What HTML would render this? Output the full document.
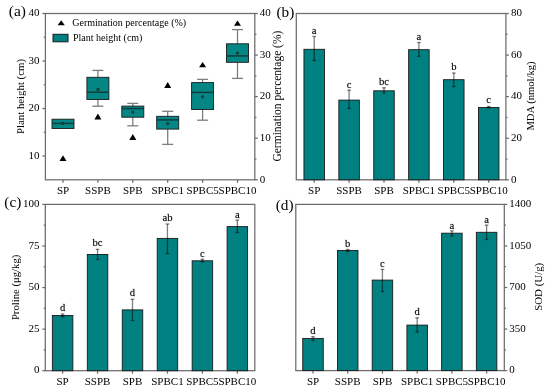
<!DOCTYPE html>
<html><head><meta charset="utf-8"><title>Figure</title>
<style>html,body{margin:0;padding:0;background:#fff;}svg{display:block;}</style>
</head><body>
<svg width="550" height="391" viewBox="0 0 550 391" font-family='"Liberation Serif", "Times New Roman", serif' fill="#000">
<rect width="550" height="391" fill="#fff"/>
<rect x="45.4" y="13.5" width="209.4" height="166.3" fill="none" stroke="#6c6c6c" stroke-width="1.25"/>
<line x1="63.0" y1="179.8" x2="63.0" y2="182.8" stroke="#6c6c6c" stroke-width="1.25"/>
<text x="63.0" y="193.6" font-size="11" text-anchor="middle" >SP</text>
<line x1="97.9" y1="179.8" x2="97.9" y2="182.8" stroke="#6c6c6c" stroke-width="1.25"/>
<text x="97.9" y="193.6" font-size="11" text-anchor="middle" >SSPB</text>
<line x1="132.8" y1="179.8" x2="132.8" y2="182.8" stroke="#6c6c6c" stroke-width="1.25"/>
<text x="132.8" y="193.6" font-size="11" text-anchor="middle" >SPB</text>
<line x1="167.7" y1="179.8" x2="167.7" y2="182.8" stroke="#6c6c6c" stroke-width="1.25"/>
<text x="167.7" y="193.6" font-size="11" text-anchor="middle" >SPBC1</text>
<line x1="202.6" y1="179.8" x2="202.6" y2="182.8" stroke="#6c6c6c" stroke-width="1.25"/>
<text x="202.6" y="193.6" font-size="11" text-anchor="middle" >SPBC5</text>
<line x1="237.5" y1="179.8" x2="237.5" y2="182.8" stroke="#6c6c6c" stroke-width="1.25"/>
<text x="237.5" y="193.6" font-size="11" text-anchor="middle" >SPBC10</text>
<line x1="45.4" y1="156.04285714285714" x2="42.4" y2="156.04285714285714" stroke="#6c6c6c" stroke-width="1.25"/>
<text x="39.6" y="158.74" font-size="11" text-anchor="end" >10</text>
<line x1="45.4" y1="108.52857142857142" x2="42.4" y2="108.52857142857142" stroke="#6c6c6c" stroke-width="1.25"/>
<text x="39.6" y="111.23" font-size="11" text-anchor="end" >20</text>
<line x1="45.4" y1="61.01428571428571" x2="42.4" y2="61.01428571428571" stroke="#6c6c6c" stroke-width="1.25"/>
<text x="39.6" y="63.71" font-size="11" text-anchor="end" >30</text>
<line x1="45.4" y1="13.5" x2="42.4" y2="13.5" stroke="#6c6c6c" stroke-width="1.25"/>
<text x="39.6" y="16.2" font-size="11" text-anchor="end" >40</text>
<line x1="45.4" y1="132.28571428571428" x2="43.8" y2="132.28571428571428" stroke="#6c6c6c" stroke-width="1.25"/>
<line x1="45.4" y1="84.77142857142857" x2="43.8" y2="84.77142857142857" stroke="#6c6c6c" stroke-width="1.25"/>
<line x1="45.4" y1="37.25714285714285" x2="43.8" y2="37.25714285714285" stroke="#6c6c6c" stroke-width="1.25"/>
<line x1="254.8" y1="179.8" x2="257.8" y2="179.8" stroke="#6c6c6c" stroke-width="1.25"/>
<text x="259.8" y="182.6" font-size="11" text-anchor="start" >0</text>
<line x1="254.8" y1="138.22500000000002" x2="257.8" y2="138.22500000000002" stroke="#6c6c6c" stroke-width="1.25"/>
<text x="259.8" y="141.03" font-size="11" text-anchor="start" >10</text>
<line x1="254.8" y1="96.65" x2="257.8" y2="96.65" stroke="#6c6c6c" stroke-width="1.25"/>
<text x="259.8" y="99.45" font-size="11" text-anchor="start" >20</text>
<line x1="254.8" y1="55.07500000000002" x2="257.8" y2="55.07500000000002" stroke="#6c6c6c" stroke-width="1.25"/>
<text x="259.8" y="57.88" font-size="11" text-anchor="start" >30</text>
<line x1="254.8" y1="13.5" x2="257.8" y2="13.5" stroke="#6c6c6c" stroke-width="1.25"/>
<text x="259.8" y="16.3" font-size="11" text-anchor="start" >40</text>
<line x1="254.8" y1="159.01250000000002" x2="256.40000000000003" y2="159.01250000000002" stroke="#6c6c6c" stroke-width="1.25"/>
<line x1="254.8" y1="117.43750000000001" x2="256.40000000000003" y2="117.43750000000001" stroke="#6c6c6c" stroke-width="1.25"/>
<line x1="254.8" y1="75.86250000000001" x2="256.40000000000003" y2="75.86250000000001" stroke="#6c6c6c" stroke-width="1.25"/>
<line x1="254.8" y1="34.28750000000002" x2="256.40000000000003" y2="34.28750000000002" stroke="#6c6c6c" stroke-width="1.25"/>
<rect x="52.0" y="119.2" width="22" height="9.299999999999997" fill="#048784" stroke="#1a1a1a" stroke-width="0.9"/>
<line x1="52.0" y1="123.4" x2="74.0" y2="123.4" stroke="#123c3c" stroke-width="1.5"/>
<circle cx="63.0" cy="123.4" r="1.15" fill="#1d4d4d" stroke="#0d2a2a" stroke-width="0.85"/>
<line x1="97.9" y1="70.4" x2="97.9" y2="77.3" stroke="#7e7e7e" stroke-width="1.3"/>
<line x1="92.4" y1="70.4" x2="103.4" y2="70.4" stroke="#7e7e7e" stroke-width="1.3"/>
<line x1="97.9" y1="99.5" x2="97.9" y2="106.2" stroke="#7e7e7e" stroke-width="1.3"/>
<line x1="92.4" y1="106.2" x2="103.4" y2="106.2" stroke="#7e7e7e" stroke-width="1.3"/>
<rect x="86.9" y="77.3" width="22" height="22.200000000000003" fill="#048784" stroke="#1a1a1a" stroke-width="0.9"/>
<line x1="86.9" y1="92.2" x2="108.9" y2="92.2" stroke="#123c3c" stroke-width="1.5"/>
<circle cx="97.9" cy="89.5" r="1.15" fill="#1d4d4d" stroke="#0d2a2a" stroke-width="0.85"/>
<line x1="132.8" y1="103.4" x2="132.8" y2="106.1" stroke="#7e7e7e" stroke-width="1.3"/>
<line x1="127.30000000000001" y1="103.4" x2="138.3" y2="103.4" stroke="#7e7e7e" stroke-width="1.3"/>
<line x1="132.8" y1="117.2" x2="132.8" y2="125.8" stroke="#7e7e7e" stroke-width="1.3"/>
<line x1="127.30000000000001" y1="125.8" x2="138.3" y2="125.8" stroke="#7e7e7e" stroke-width="1.3"/>
<rect x="121.80000000000001" y="106.1" width="22" height="11.100000000000009" fill="#048784" stroke="#1a1a1a" stroke-width="0.9"/>
<line x1="121.80000000000001" y1="108.6" x2="143.8" y2="108.6" stroke="#123c3c" stroke-width="1.5"/>
<circle cx="132.8" cy="112.2" r="1.15" fill="#1d4d4d" stroke="#0d2a2a" stroke-width="0.85"/>
<line x1="167.7" y1="111.3" x2="167.7" y2="116.3" stroke="#7e7e7e" stroke-width="1.3"/>
<line x1="162.2" y1="111.3" x2="173.2" y2="111.3" stroke="#7e7e7e" stroke-width="1.3"/>
<line x1="167.7" y1="129.1" x2="167.7" y2="144.4" stroke="#7e7e7e" stroke-width="1.3"/>
<line x1="162.2" y1="144.4" x2="173.2" y2="144.4" stroke="#7e7e7e" stroke-width="1.3"/>
<rect x="156.7" y="116.3" width="22" height="12.799999999999997" fill="#048784" stroke="#1a1a1a" stroke-width="0.9"/>
<line x1="156.7" y1="119.9" x2="178.7" y2="119.9" stroke="#123c3c" stroke-width="1.5"/>
<circle cx="167.7" cy="123.6" r="1.15" fill="#1d4d4d" stroke="#0d2a2a" stroke-width="0.85"/>
<line x1="202.6" y1="79.4" x2="202.6" y2="82.6" stroke="#7e7e7e" stroke-width="1.3"/>
<line x1="197.1" y1="79.4" x2="208.1" y2="79.4" stroke="#7e7e7e" stroke-width="1.3"/>
<line x1="202.6" y1="109.5" x2="202.6" y2="120.2" stroke="#7e7e7e" stroke-width="1.3"/>
<line x1="197.1" y1="120.2" x2="208.1" y2="120.2" stroke="#7e7e7e" stroke-width="1.3"/>
<rect x="191.6" y="82.6" width="22" height="26.900000000000006" fill="#048784" stroke="#1a1a1a" stroke-width="0.9"/>
<line x1="191.6" y1="92.4" x2="213.6" y2="92.4" stroke="#123c3c" stroke-width="1.5"/>
<circle cx="202.6" cy="96.8" r="1.15" fill="#1d4d4d" stroke="#0d2a2a" stroke-width="0.85"/>
<line x1="237.5" y1="29.6" x2="237.5" y2="43.8" stroke="#7e7e7e" stroke-width="1.3"/>
<line x1="232.0" y1="29.6" x2="243.0" y2="29.6" stroke="#7e7e7e" stroke-width="1.3"/>
<line x1="237.5" y1="62.3" x2="237.5" y2="78.4" stroke="#7e7e7e" stroke-width="1.3"/>
<line x1="232.0" y1="78.4" x2="243.0" y2="78.4" stroke="#7e7e7e" stroke-width="1.3"/>
<rect x="226.5" y="43.8" width="22" height="18.5" fill="#048784" stroke="#1a1a1a" stroke-width="0.9"/>
<line x1="226.5" y1="55.9" x2="248.5" y2="55.9" stroke="#123c3c" stroke-width="1.5"/>
<circle cx="237.5" cy="53.1" r="1.15" fill="#1d4d4d" stroke="#0d2a2a" stroke-width="0.85"/>
<polygon points="63.0,155.20000000000002 59.5,161.05 66.5,161.05" fill="#000"/>
<polygon points="97.9,113.6 94.4,119.45 101.4,119.45" fill="#000"/>
<polygon points="132.8,134.0 129.3,139.95 136.3,139.95" fill="#000"/>
<polygon points="167.7,82.1 164.2,88.05 171.2,88.05" fill="#000"/>
<polygon points="202.6,61.9 199.1,67.15 206.1,67.15" fill="#000"/>
<polygon points="237.5,20.400000000000002 234.0,25.65 241.0,25.65" fill="#000"/>
<polygon points="61.2,20.2 57.6,25.2 64.8,25.2" fill="#000"/>
<text x="72.3" y="26.4" font-size="10" text-anchor="start" >Germination percentage (%)</text>
<rect x="53" y="34.3" width="15" height="7.5" fill="#008080" stroke="#1a1a1a" stroke-width="1"/>
<text x="73.0" y="40.7" font-size="10" text-anchor="start" >Plant height (cm)</text>
<text x="0" y="0" font-size="10.8" text-anchor="middle" transform="translate(24.1,96.5) rotate(-90)">Plant height (cm)</text>
<text x="0" y="0" font-size="11.5" text-anchor="middle" transform="translate(280.5,96.1) rotate(-90)">Germination percentage (%)</text>
<text x="8.8" y="15.6" font-size="15.5" text-anchor="start" >(a)</text>
<rect x="296.3" y="13.5" width="209.59999999999997" height="166.3" fill="none" stroke="#6c6c6c" stroke-width="1.25"/>
<line x1="314.2" y1="179.8" x2="314.2" y2="182.8" stroke="#6c6c6c" stroke-width="1.25"/>
<text x="314.2" y="193.6" font-size="11" text-anchor="middle" >SP</text>
<line x1="349.1" y1="179.8" x2="349.1" y2="182.8" stroke="#6c6c6c" stroke-width="1.25"/>
<text x="349.1" y="193.6" font-size="11" text-anchor="middle" >SSPB</text>
<line x1="384.0" y1="179.8" x2="384.0" y2="182.8" stroke="#6c6c6c" stroke-width="1.25"/>
<text x="384.0" y="193.6" font-size="11" text-anchor="middle" >SPB</text>
<line x1="418.9" y1="179.8" x2="418.9" y2="182.8" stroke="#6c6c6c" stroke-width="1.25"/>
<text x="418.9" y="193.6" font-size="11" text-anchor="middle" >SPBC1</text>
<line x1="453.8" y1="179.8" x2="453.8" y2="182.8" stroke="#6c6c6c" stroke-width="1.25"/>
<text x="453.8" y="193.6" font-size="11" text-anchor="middle" >SPBC5</text>
<line x1="488.7" y1="179.8" x2="488.7" y2="182.8" stroke="#6c6c6c" stroke-width="1.25"/>
<text x="488.7" y="193.6" font-size="11" text-anchor="middle" >SPBC10</text>
<line x1="505.9" y1="179.8" x2="508.9" y2="179.8" stroke="#6c6c6c" stroke-width="1.25"/>
<text x="510.9" y="182.6" font-size="11" text-anchor="start" >0</text>
<line x1="505.9" y1="138.22500000000002" x2="508.9" y2="138.22500000000002" stroke="#6c6c6c" stroke-width="1.25"/>
<text x="510.9" y="141.03" font-size="11" text-anchor="start" >20</text>
<line x1="505.9" y1="96.65" x2="508.9" y2="96.65" stroke="#6c6c6c" stroke-width="1.25"/>
<text x="510.9" y="99.45" font-size="11" text-anchor="start" >40</text>
<line x1="505.9" y1="55.07500000000002" x2="508.9" y2="55.07500000000002" stroke="#6c6c6c" stroke-width="1.25"/>
<text x="510.9" y="57.88" font-size="11" text-anchor="start" >60</text>
<line x1="505.9" y1="13.5" x2="508.9" y2="13.5" stroke="#6c6c6c" stroke-width="1.25"/>
<text x="510.9" y="16.3" font-size="11" text-anchor="start" >80</text>
<line x1="505.9" y1="159.01250000000002" x2="507.5" y2="159.01250000000002" stroke="#6c6c6c" stroke-width="1.25"/>
<line x1="505.9" y1="117.43750000000001" x2="507.5" y2="117.43750000000001" stroke="#6c6c6c" stroke-width="1.25"/>
<line x1="505.9" y1="75.86250000000001" x2="507.5" y2="75.86250000000001" stroke="#6c6c6c" stroke-width="1.25"/>
<line x1="505.9" y1="34.28750000000002" x2="507.5" y2="34.28750000000002" stroke="#6c6c6c" stroke-width="1.25"/>
<rect x="303.95" y="49.3" width="20.5" height="130.5" fill="#008080" stroke="#1a1a1a" stroke-width="0.9"/>
<rect x="338.85" y="100.1" width="20.5" height="79.70000000000002" fill="#008080" stroke="#1a1a1a" stroke-width="0.9"/>
<rect x="373.75" y="90.8" width="20.5" height="89.00000000000001" fill="#008080" stroke="#1a1a1a" stroke-width="0.9"/>
<rect x="408.65" y="49.7" width="20.5" height="130.10000000000002" fill="#008080" stroke="#1a1a1a" stroke-width="0.9"/>
<rect x="443.55" y="79.7" width="20.5" height="100.10000000000001" fill="#008080" stroke="#1a1a1a" stroke-width="0.9"/>
<rect x="478.45" y="107.5" width="20.5" height="72.30000000000001" fill="#008080" stroke="#1a1a1a" stroke-width="0.9"/>
<g stroke="#000" stroke-opacity="0.5" stroke-width="1.3"><line x1="314.2" y1="36.5" x2="314.2" y2="60.4"/><line x1="312.4" y1="36.5" x2="316.0" y2="36.5"/><line x1="312.4" y1="60.4" x2="316.0" y2="60.4"/></g>
<text x="314.2" y="34.4" font-size="10.6" text-anchor="middle" stroke="#000" stroke-width="0.3" stroke-opacity="0.45">a</text>
<g stroke="#000" stroke-opacity="0.5" stroke-width="1.3"><line x1="349.1" y1="90.1" x2="349.1" y2="108.5"/><line x1="347.3" y1="90.1" x2="350.90000000000003" y2="90.1"/><line x1="347.3" y1="108.5" x2="350.90000000000003" y2="108.5"/></g>
<text x="349.1" y="87.6" font-size="10.6" text-anchor="middle" stroke="#000" stroke-width="0.3" stroke-opacity="0.45">c</text>
<g stroke="#000" stroke-opacity="0.5" stroke-width="1.3"><line x1="384.0" y1="87.8" x2="384.0" y2="93"/><line x1="382.2" y1="87.8" x2="385.8" y2="87.8"/><line x1="382.2" y1="93" x2="385.8" y2="93"/></g>
<text x="384.0" y="85.3" font-size="10.6" text-anchor="middle" stroke="#000" stroke-width="0.3" stroke-opacity="0.45">bc</text>
<g stroke="#000" stroke-opacity="0.5" stroke-width="1.3"><line x1="418.9" y1="42.5" x2="418.9" y2="56.3"/><line x1="417.09999999999997" y1="42.5" x2="420.7" y2="42.5"/><line x1="417.09999999999997" y1="56.3" x2="420.7" y2="56.3"/></g>
<text x="418.9" y="39.9" font-size="10.6" text-anchor="middle" stroke="#000" stroke-width="0.3" stroke-opacity="0.45">a</text>
<g stroke="#000" stroke-opacity="0.5" stroke-width="1.3"><line x1="453.8" y1="73" x2="453.8" y2="86.6"/><line x1="452.0" y1="73" x2="455.6" y2="73"/><line x1="452.0" y1="86.6" x2="455.6" y2="86.6"/></g>
<text x="453.8" y="70.0" font-size="10.6" text-anchor="middle" stroke="#000" stroke-width="0.3" stroke-opacity="0.45">b</text>
<g stroke="#000" stroke-opacity="0.5" stroke-width="1.3"><line x1="488.7" y1="106.5" x2="488.7" y2="108"/><line x1="486.9" y1="106.5" x2="490.5" y2="106.5"/><line x1="486.9" y1="108" x2="490.5" y2="108"/></g>
<text x="488.7" y="103.4" font-size="10.6" text-anchor="middle" stroke="#000" stroke-width="0.3" stroke-opacity="0.45">c</text>
<text x="0" y="0" font-size="10.6" text-anchor="middle" transform="translate(533.8,96.0) rotate(-90)">MDA (nmol/kg)</text>
<text x="276.4" y="17.4" font-size="15.3" text-anchor="start" >(b)</text>
<rect x="45.3" y="204.4" width="209.5" height="166.29999999999998" fill="none" stroke="#6c6c6c" stroke-width="1.25"/>
<line x1="62.6" y1="370.7" x2="62.6" y2="373.7" stroke="#6c6c6c" stroke-width="1.25"/>
<text x="62.6" y="384.6" font-size="11" text-anchor="middle" >SP</text>
<line x1="97.55" y1="370.7" x2="97.55" y2="373.7" stroke="#6c6c6c" stroke-width="1.25"/>
<text x="97.55" y="384.6" font-size="11" text-anchor="middle" >SSPB</text>
<line x1="132.5" y1="370.7" x2="132.5" y2="373.7" stroke="#6c6c6c" stroke-width="1.25"/>
<text x="132.5" y="384.6" font-size="11" text-anchor="middle" >SPB</text>
<line x1="167.45" y1="370.7" x2="167.45" y2="373.7" stroke="#6c6c6c" stroke-width="1.25"/>
<text x="167.45" y="384.6" font-size="11" text-anchor="middle" >SPBC1</text>
<line x1="202.4" y1="370.7" x2="202.4" y2="373.7" stroke="#6c6c6c" stroke-width="1.25"/>
<text x="202.4" y="384.6" font-size="11" text-anchor="middle" >SPBC5</text>
<line x1="237.35" y1="370.7" x2="237.35" y2="373.7" stroke="#6c6c6c" stroke-width="1.25"/>
<text x="237.35" y="384.6" font-size="11" text-anchor="middle" >SPBC10</text>
<line x1="45.3" y1="370.7" x2="42.3" y2="370.7" stroke="#6c6c6c" stroke-width="1.25"/>
<text x="39.5" y="373.4" font-size="11" text-anchor="end" >0</text>
<line x1="45.3" y1="329.125" x2="42.3" y2="329.125" stroke="#6c6c6c" stroke-width="1.25"/>
<text x="39.5" y="331.82" font-size="11" text-anchor="end" >25</text>
<line x1="45.3" y1="287.54999999999995" x2="42.3" y2="287.54999999999995" stroke="#6c6c6c" stroke-width="1.25"/>
<text x="39.5" y="290.25" font-size="11" text-anchor="end" >50</text>
<line x1="45.3" y1="245.97500000000002" x2="42.3" y2="245.97500000000002" stroke="#6c6c6c" stroke-width="1.25"/>
<text x="39.5" y="248.68" font-size="11" text-anchor="end" >75</text>
<line x1="45.3" y1="204.39999999999998" x2="42.3" y2="204.39999999999998" stroke="#6c6c6c" stroke-width="1.25"/>
<text x="39.5" y="207.1" font-size="11" text-anchor="end" >100</text>
<line x1="45.3" y1="349.91249999999997" x2="43.699999999999996" y2="349.91249999999997" stroke="#6c6c6c" stroke-width="1.25"/>
<line x1="45.3" y1="308.3375" x2="43.699999999999996" y2="308.3375" stroke="#6c6c6c" stroke-width="1.25"/>
<line x1="45.3" y1="266.7625" x2="43.699999999999996" y2="266.7625" stroke="#6c6c6c" stroke-width="1.25"/>
<line x1="45.3" y1="225.1875" x2="43.699999999999996" y2="225.1875" stroke="#6c6c6c" stroke-width="1.25"/>
<rect x="52.35" y="315.5" width="20.5" height="55.19999999999999" fill="#008080" stroke="#1a1a1a" stroke-width="0.9"/>
<rect x="87.3" y="254.5" width="20.5" height="116.19999999999999" fill="#008080" stroke="#1a1a1a" stroke-width="0.9"/>
<rect x="122.25" y="309.9" width="20.5" height="60.80000000000001" fill="#008080" stroke="#1a1a1a" stroke-width="0.9"/>
<rect x="157.2" y="238.4" width="20.5" height="132.29999999999998" fill="#008080" stroke="#1a1a1a" stroke-width="0.9"/>
<rect x="192.15" y="260.8" width="20.5" height="109.89999999999998" fill="#008080" stroke="#1a1a1a" stroke-width="0.9"/>
<rect x="227.1" y="226.6" width="20.5" height="144.1" fill="#008080" stroke="#1a1a1a" stroke-width="0.9"/>
<g stroke="#000" stroke-opacity="0.5" stroke-width="1.3"><line x1="62.6" y1="314" x2="62.6" y2="316.7"/><line x1="60.800000000000004" y1="314" x2="64.4" y2="314"/><line x1="60.800000000000004" y1="316.7" x2="64.4" y2="316.7"/></g>
<text x="62.6" y="311.3" font-size="10.6" text-anchor="middle" stroke="#000" stroke-width="0.3" stroke-opacity="0.45">d</text>
<g stroke="#000" stroke-opacity="0.5" stroke-width="1.3"><line x1="97.55" y1="249.4" x2="97.55" y2="259.4"/><line x1="95.75" y1="249.4" x2="99.35" y2="249.4"/><line x1="95.75" y1="259.4" x2="99.35" y2="259.4"/></g>
<text x="97.55" y="246.3" font-size="10.6" text-anchor="middle" stroke="#000" stroke-width="0.3" stroke-opacity="0.45">bc</text>
<g stroke="#000" stroke-opacity="0.5" stroke-width="1.3"><line x1="132.5" y1="299.3" x2="132.5" y2="320.5"/><line x1="130.7" y1="299.3" x2="134.3" y2="299.3"/><line x1="130.7" y1="320.5" x2="134.3" y2="320.5"/></g>
<text x="132.5" y="295.6" font-size="10.6" text-anchor="middle" stroke="#000" stroke-width="0.3" stroke-opacity="0.45">d</text>
<g stroke="#000" stroke-opacity="0.5" stroke-width="1.3"><line x1="167.45" y1="224" x2="167.45" y2="253.5"/><line x1="165.64999999999998" y1="224" x2="169.25" y2="224"/><line x1="165.64999999999998" y1="253.5" x2="169.25" y2="253.5"/></g>
<text x="167.45" y="221.1" font-size="10.6" text-anchor="middle" stroke="#000" stroke-width="0.3" stroke-opacity="0.45">ab</text>
<g stroke="#000" stroke-opacity="0.5" stroke-width="1.3"><line x1="202.4" y1="259.3" x2="202.4" y2="261.7"/><line x1="200.6" y1="259.3" x2="204.20000000000002" y2="259.3"/><line x1="200.6" y1="261.7" x2="204.20000000000002" y2="261.7"/></g>
<text x="202.4" y="256.5" font-size="10.6" text-anchor="middle" stroke="#000" stroke-width="0.3" stroke-opacity="0.45">c</text>
<g stroke="#000" stroke-opacity="0.5" stroke-width="1.3"><line x1="237.35" y1="220.1" x2="237.35" y2="232.5"/><line x1="235.54999999999998" y1="220.1" x2="239.15" y2="220.1"/><line x1="235.54999999999998" y1="232.5" x2="239.15" y2="232.5"/></g>
<text x="237.35" y="217.5" font-size="10.6" text-anchor="middle" stroke="#000" stroke-width="0.3" stroke-opacity="0.45">a</text>
<text x="0" y="0" font-size="10.7" text-anchor="middle" transform="translate(18.8,287.4) rotate(-90)">Proline (μg/kg)</text>
<text x="4.3" y="206.8" font-size="15.3" text-anchor="start" >(c)</text>
<rect x="295.8" y="204.4" width="208.5" height="166.20000000000002" fill="none" stroke="#6c6c6c" stroke-width="1.25"/>
<line x1="313.0" y1="370.6" x2="313.0" y2="373.6" stroke="#6c6c6c" stroke-width="1.25"/>
<text x="313.0" y="384.6" font-size="11" text-anchor="middle" >SP</text>
<line x1="347.72" y1="370.6" x2="347.72" y2="373.6" stroke="#6c6c6c" stroke-width="1.25"/>
<text x="347.72" y="384.6" font-size="11" text-anchor="middle" >SSPB</text>
<line x1="382.44" y1="370.6" x2="382.44" y2="373.6" stroke="#6c6c6c" stroke-width="1.25"/>
<text x="382.44" y="384.6" font-size="11" text-anchor="middle" >SPB</text>
<line x1="417.16" y1="370.6" x2="417.16" y2="373.6" stroke="#6c6c6c" stroke-width="1.25"/>
<text x="417.16" y="384.6" font-size="11" text-anchor="middle" >SPBC1</text>
<line x1="451.88" y1="370.6" x2="451.88" y2="373.6" stroke="#6c6c6c" stroke-width="1.25"/>
<text x="451.88" y="384.6" font-size="11" text-anchor="middle" >SPBC5</text>
<line x1="486.6" y1="370.6" x2="486.6" y2="373.6" stroke="#6c6c6c" stroke-width="1.25"/>
<text x="486.6" y="384.6" font-size="11" text-anchor="middle" >SPBC10</text>
<line x1="504.3" y1="370.6" x2="507.3" y2="370.6" stroke="#6c6c6c" stroke-width="1.25"/>
<text x="509.3" y="373.4" font-size="11" text-anchor="start" >0</text>
<line x1="504.3" y1="329.05" x2="507.3" y2="329.05" stroke="#6c6c6c" stroke-width="1.25"/>
<text x="509.3" y="331.85" font-size="11" text-anchor="start" >350</text>
<line x1="504.3" y1="287.5" x2="507.3" y2="287.5" stroke="#6c6c6c" stroke-width="1.25"/>
<text x="509.3" y="290.3" font-size="11" text-anchor="start" >700</text>
<line x1="504.3" y1="245.95" x2="507.3" y2="245.95" stroke="#6c6c6c" stroke-width="1.25"/>
<text x="509.3" y="248.75" font-size="11" text-anchor="start" >1050</text>
<line x1="504.3" y1="204.4" x2="507.3" y2="204.4" stroke="#6c6c6c" stroke-width="1.25"/>
<text x="509.3" y="207.2" font-size="11" text-anchor="start" >1400</text>
<line x1="504.3" y1="349.82500000000005" x2="505.90000000000003" y2="349.82500000000005" stroke="#6c6c6c" stroke-width="1.25"/>
<line x1="504.3" y1="308.27500000000003" x2="505.90000000000003" y2="308.27500000000003" stroke="#6c6c6c" stroke-width="1.25"/>
<line x1="504.3" y1="266.725" x2="505.90000000000003" y2="266.725" stroke="#6c6c6c" stroke-width="1.25"/>
<line x1="504.3" y1="225.175" x2="505.90000000000003" y2="225.175" stroke="#6c6c6c" stroke-width="1.25"/>
<rect x="302.75" y="338.4" width="20.5" height="32.200000000000045" fill="#008080" stroke="#1a1a1a" stroke-width="0.9"/>
<rect x="337.47" y="250.5" width="20.5" height="120.10000000000002" fill="#008080" stroke="#1a1a1a" stroke-width="0.9"/>
<rect x="372.19" y="280.1" width="20.5" height="90.5" fill="#008080" stroke="#1a1a1a" stroke-width="0.9"/>
<rect x="406.91" y="325.1" width="20.5" height="45.5" fill="#008080" stroke="#1a1a1a" stroke-width="0.9"/>
<rect x="441.63" y="233.2" width="20.5" height="137.40000000000003" fill="#008080" stroke="#1a1a1a" stroke-width="0.9"/>
<rect x="476.35" y="232.3" width="20.5" height="138.3" fill="#008080" stroke="#1a1a1a" stroke-width="0.9"/>
<g stroke="#000" stroke-opacity="0.5" stroke-width="1.3"><line x1="313.0" y1="336.7" x2="313.0" y2="340.5"/><line x1="311.2" y1="336.7" x2="314.8" y2="336.7"/><line x1="311.2" y1="340.5" x2="314.8" y2="340.5"/></g>
<text x="313.0" y="333.5" font-size="10.6" text-anchor="middle" stroke="#000" stroke-width="0.3" stroke-opacity="0.45">d</text>
<g stroke="#000" stroke-opacity="0.5" stroke-width="1.3"><line x1="347.72" y1="249.5" x2="347.72" y2="251.5"/><line x1="345.92" y1="249.5" x2="349.52000000000004" y2="249.5"/><line x1="345.92" y1="251.5" x2="349.52000000000004" y2="251.5"/></g>
<text x="347.72" y="246.8" font-size="10.6" text-anchor="middle" stroke="#000" stroke-width="0.3" stroke-opacity="0.45">b</text>
<g stroke="#000" stroke-opacity="0.5" stroke-width="1.3"><line x1="382.44" y1="269.4" x2="382.44" y2="291.6"/><line x1="380.64" y1="269.4" x2="384.24" y2="269.4"/><line x1="380.64" y1="291.6" x2="384.24" y2="291.6"/></g>
<text x="382.44" y="266.9" font-size="10.6" text-anchor="middle" stroke="#000" stroke-width="0.3" stroke-opacity="0.45">c</text>
<g stroke="#000" stroke-opacity="0.5" stroke-width="1.3"><line x1="417.16" y1="317.8" x2="417.16" y2="332"/><line x1="415.36" y1="317.8" x2="418.96000000000004" y2="317.8"/><line x1="415.36" y1="332" x2="418.96000000000004" y2="332"/></g>
<text x="417.16" y="315.3" font-size="10.6" text-anchor="middle" stroke="#000" stroke-width="0.3" stroke-opacity="0.45">d</text>
<g stroke="#000" stroke-opacity="0.5" stroke-width="1.3"><line x1="451.88" y1="230.9" x2="451.88" y2="236"/><line x1="450.08" y1="230.9" x2="453.68" y2="230.9"/><line x1="450.08" y1="236" x2="453.68" y2="236"/></g>
<text x="451.88" y="228.5" font-size="10.6" text-anchor="middle" stroke="#000" stroke-width="0.3" stroke-opacity="0.45">a</text>
<g stroke="#000" stroke-opacity="0.5" stroke-width="1.3"><line x1="486.6" y1="225.1" x2="486.6" y2="239.5"/><line x1="484.8" y1="225.1" x2="488.40000000000003" y2="225.1"/><line x1="484.8" y1="239.5" x2="488.40000000000003" y2="239.5"/></g>
<text x="486.6" y="222.6" font-size="10.6" text-anchor="middle" stroke="#000" stroke-width="0.3" stroke-opacity="0.45">a</text>
<text x="0" y="0" font-size="10.9" text-anchor="middle" transform="translate(542.2,286.8) rotate(-90)">SOD (U/g)</text>
<text x="275.7" y="209.7" font-size="15.3" text-anchor="start" >(d)</text>
</svg>
</body></html>
